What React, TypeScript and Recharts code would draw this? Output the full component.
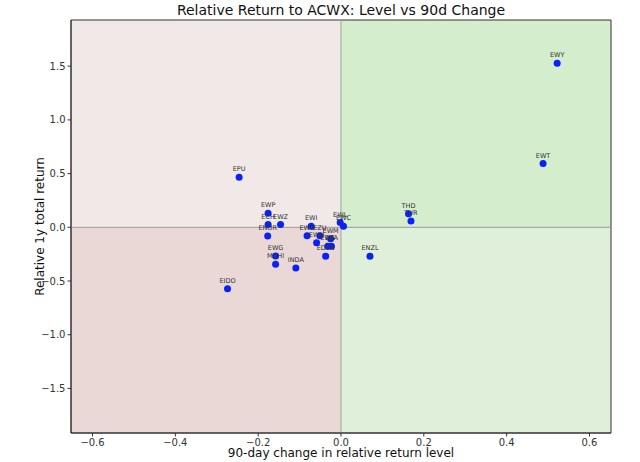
import {
  ReferenceArea,
  ReferenceLine,
  Scatter,
  ScatterChart,
  XAxis,
  YAxis,
} from "recharts";

// ETF tickers and their (90d change, relative 1y return) pairs
const tickers = [
  "EWY", "EWT", "EPU", "THD", "TUR", "ENZL", "EIDO", "EWP", "ECH", "EWZ", "ENOR",
  "EWI", "EWU", "EZU", "EWH", "EWL", "EWC", "EWM", "EWS", "EZA", "EDEN", "EWG",
  "MCHI", "INDA",
];
const change90d = [
  0.522, 0.488, -0.246, 0.163, 0.169, 0.07, -0.274, -0.176, -0.176, -0.146, -0.177,
  -0.072, -0.082, -0.051, -0.059, -0.002, 0.006, -0.025, -0.032, -0.023, -0.037, -0.158,
  -0.158, -0.109,
];
const relReturn = [
  1.528, 0.593, 0.466, 0.127, 0.058, -0.269, -0.571, 0.132, 0.025, 0.025, -0.081,
  0.009, -0.079, -0.079, -0.144, 0.044, 0.009, -0.106, -0.176, -0.176, -0.269, -0.266,
  -0.343, -0.38,
];

const xTicks = [-0.6, -0.4, -0.2, 0, 0.2, 0.4, 0.6];
const yTicks = [-1.5, -1.0, -0.5, 0, 0.5, 1.0, 1.5];

const X_MIN = -0.652;
const X_MAX = 0.652;
const Y_MIN = -1.915;
const Y_MAX = 1.93;

const points = tickers.map((t, i) => ({ name: t, x: change90d[i], y: relReturn[i] }));

const font = "'DejaVu Sans', sans-serif";
const fmt = (v: number) => (v < 0 ? "\u2212" : "") + Math.abs(v).toFixed(1);

const Dot = (props: any) => {
  const { cx, cy, payload } = props;
  return (
    <g>
      <circle cx={cx} cy={cy} r={3.5} fill="#0a22f5" />
      <text
        x={cx}
        y={cy - 6}
        textAnchor="middle"
        fontSize={6.5}
        fontFamily={font}
        fill="#333"
      >
        {payload.name}
      </text>
    </g>
  );
};

export default function App() {
  return (
    <div style={{ position: "absolute", left: 0, top: 0, background: "#fff" }}>
      <div
        style={{
          position: "absolute",
          left: 71,
          width: 540,
          top: 2,
          textAlign: "center",
          fontFamily: font,
          fontSize: 14,
          color: "#111",
        }}
      >
        Relative Return to ACWX: Level vs 90d Change
      </div>
      <ScatterChart
        width={640}
        height={462}
        margin={{ top: 20, right: 29, bottom: 0, left: 0 }}
      >
        <XAxis
          type="number"
          dataKey="x"
          domain={[X_MIN, X_MAX]}
          allowDataOverflow
          ticks={xTicks}
          tickFormatter={fmt}
          height={29}
          tickSize={3.5}
          tickLine={{ stroke: "#333" }}
          axisLine={{ stroke: "#333" }}
          tick={{ fontSize: 10, fontFamily: font, fill: "#333" }}
          label={{
            value: "90-day change in relative return level",
            position: "insideBottom",
            offset: 5,
            style: { fontSize: 12, fontFamily: font, fill: "#111" },
          }}
        />
        <YAxis
          type="number"
          dataKey="y"
          domain={[Y_MIN, Y_MAX]}
          allowDataOverflow
          ticks={yTicks}
          tickFormatter={fmt}
          width={71}
          tickSize={3.5}
          tickLine={{ stroke: "#333" }}
          axisLine={{ stroke: "#333" }}
          tick={{ fontSize: 10, fontFamily: font, fill: "#333" }}
          label={{
            value: "Relative 1y total return",
            angle: -90,
            position: "insideLeft",
            offset: 40,
            style: { fontSize: 12, fontFamily: font, fill: "#111", textAnchor: "middle" },
          }}
        />
        <ReferenceArea x1={X_MIN} x2={0} y1={0} y2={Y_MAX} fill="#f0e9e7" fillOpacity={1} stroke="none" />
        <ReferenceArea x1={0} x2={X_MAX} y1={0} y2={Y_MAX} fill="#d4edcd" fillOpacity={1} stroke="none" />
        <ReferenceArea x1={X_MIN} x2={0} y1={Y_MIN} y2={0} fill="#ead8d6" fillOpacity={1} stroke="none" />
        <ReferenceArea x1={0} x2={X_MAX} y1={Y_MIN} y2={0} fill="#dfefd9" fillOpacity={1} stroke="none" />
        <ReferenceLine y={0} stroke="#999" strokeWidth={1} />
        <ReferenceLine x={0} stroke="#9aa79a" strokeWidth={1} />
        <Scatter data={points} shape={<Dot />} isAnimationActive={false} />
        <ReferenceArea
          x1={X_MIN}
          x2={X_MAX}
          y1={Y_MIN}
          y2={Y_MAX}
          fill="none"
          stroke="#333"
          strokeWidth={1}
        />
      </ScatterChart>
    </div>
  );
}
